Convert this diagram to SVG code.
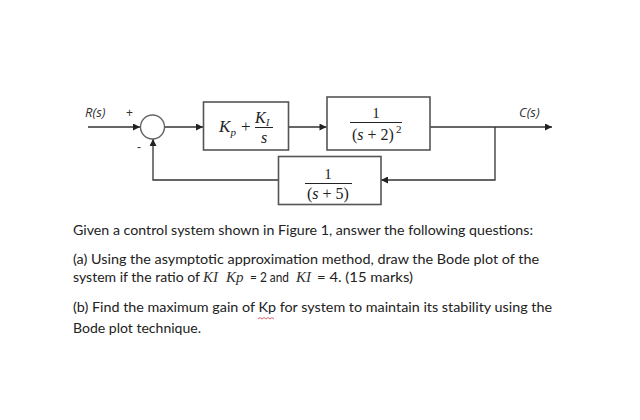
<svg xmlns="http://www.w3.org/2000/svg" width="640" height="420" viewBox="0 0 640 420">
<defs>
<marker id="arr" viewBox="0 0 10 10" refX="10" refY="5" markerWidth="9" markerHeight="7" markerUnits="userSpaceOnUse" orient="auto">
<path d="M0,0 L10,5 L0,10 z" fill="#222"/>
</marker>
<style>
.box{fill:#fff;stroke:#555;stroke-width:1.6}
.wire{fill:none;stroke:#333;stroke-width:1.3}
.lbl{font-family:"Open Sans","Liberation Sans",sans-serif;font-size:13px;fill:#333;font-style:italic}
.sign{font-family:"Liberation Sans",sans-serif;font-size:12px;fill:#333}
.m{font-family:"Liberation Serif","DejaVu Serif",serif;fill:#222}
.mi{font-family:"Liberation Serif","DejaVu Serif",serif;font-style:italic;fill:#222}
.bar{stroke:#222;stroke-width:1}
.para{font-family:Lato,"Open Sans",sans-serif;font-size:14px;fill:#222}
.pi{font-family:"Liberation Serif",serif;font-style:italic;font-size:15px;fill:#333}
</style>
</defs>
<rect width="640" height="420" fill="#fff"/>

<g id="connectors">
<line class="wire" x1="88" y1="127" x2="140" y2="127" marker-end="url(#arr)"/>
<line class="wire" x1="165" y1="127" x2="203" y2="127" marker-end="url(#arr)"/>
<line class="wire" x1="288" y1="127" x2="326.5" y2="127" marker-end="url(#arr)"/>
<line class="wire" x1="430" y1="127" x2="552" y2="127" marker-end="url(#arr)"/>
<polyline class="wire" points="495,127 495,180 381,180" marker-end="url(#arr)"/>
<polyline class="wire" points="278,180 153,180 153,139" marker-end="url(#arr)"/>
</g>

<g id="R">
<text class="lbl" x="85" y="117">R(s)</text>
</g>
<g id="sum">
<circle cx="152.5" cy="127" r="12" fill="#fff" stroke="#666" stroke-width="1.4"/>
<text class="sign" x="126" y="117">+</text>
<text class="sign" x="137" y="151">-</text>
</g>
<g id="controller">
<rect class="box" x="203.5" y="102" width="85" height="48"/>
<text class="mi" x="219" y="132" font-size="17">K</text>
<text class="mi" x="230.5" y="135.5" font-size="11">p</text>
<text class="m" x="241" y="132" font-size="17">+</text>
<text class="mi" x="255" y="123" font-size="16">K</text>
<text class="mi" x="266" y="125.5" font-size="10">I</text>
<line class="bar" x1="255" y1="127.5" x2="273" y2="127.5"/>
<text class="mi" x="264" y="143" font-size="16" text-anchor="middle">s</text>
</g>
<g id="plant">
<rect class="box" x="327" y="97" width="103" height="53"/>
<text class="m" x="376" y="118" font-size="15" text-anchor="middle">1</text>
<line class="bar" x1="350" y1="122.5" x2="402" y2="122.5"/>
<text class="m" x="373" y="139.5" font-size="16" text-anchor="middle">(<tspan class="mi">s</tspan> + 2)</text>
<text class="m" x="396" y="133" font-size="11">2</text>
</g>
<g id="feedback">
<rect class="box" x="278.5" y="156.5" width="102.5" height="48"/>
<text class="m" x="328" y="178.5" font-size="15" text-anchor="middle">1</text>
<line class="bar" x1="305" y1="183.5" x2="352" y2="183.5"/>
<text class="m" x="328" y="198.5" font-size="16" text-anchor="middle">(<tspan class="mi">s</tspan> + 5)</text>
</g>
<g id="C">
<text class="lbl" x="519" y="117">C(s)</text>
</g>

<g id="question">
<text class="para" x="73" y="235" textLength="460" lengthAdjust="spacingAndGlyphs">Given a control system shown in Figure 1, answer the following questions:</text>
<text class="para" x="73" y="263.5" textLength="466" lengthAdjust="spacingAndGlyphs">(a) Using the asymptotic approximation method, draw the Bode plot of the</text>
<text class="para" x="73" y="282" textLength="127" lengthAdjust="spacingAndGlyphs">system if the ratio of</text>
<text class="pi" x="203" y="282">KI</text>
<text class="pi" x="226" y="282">Kp</text>
<text class="para" x="250" y="282" textLength="39" lengthAdjust="spacingAndGlyphs">= 2 and</text>
<text class="pi" x="296" y="282" font-size="14">KI</text>
<text class="para" x="317" y="282" textLength="96" lengthAdjust="spacingAndGlyphs">= 4. (15 marks)</text>
<text class="para" x="73" y="311.5" textLength="479" lengthAdjust="spacingAndGlyphs">(b) Find the maximum gain of Kp for system to maintain its stability using the</text>
<path d="M258,319 l2,-1.5 l2,1.5 l2,-1.5 l2,1.5 l2,-1.5 l2,1.5 l2,-1.5 l2,1.5" fill="none" stroke="#d04040" stroke-width="0.8"/>
<text class="para" x="73" y="333" textLength="128" lengthAdjust="spacingAndGlyphs">Bode plot technique.</text>
</g>
</svg>
